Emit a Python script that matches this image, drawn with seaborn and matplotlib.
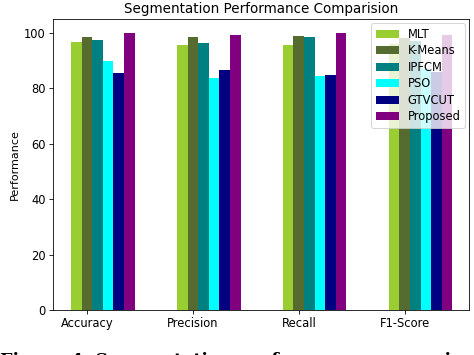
import matplotlib
matplotlib.use('Agg')
import matplotlib.pyplot as plt
import seaborn as sns
import numpy as np
import pandas as pd

metricas = ['Accuracy', 'Precision', 'Recall', 'F1-Score']
metodos = ['MLT', 'K-Means', 'IPFCM', 'PSO', 'GTVCUT', 'Proposed']

mlt = [96.8, 95.6, 95.6, 96.0]
kmeans = [98.5, 98.5, 99.0, 98.2]
ipfcm = [97.6, 96.5, 98.5, 97.0]
pso = [89.9, 83.9, 84.5, 87.0]
gtvcut = [85.7, 86.6, 84.8, 86.0]
proposed = [100.0, 99.4, 99.9, 99.4]

colores = ['yellowgreen', 'darkolivegreen', 'teal', 'cyan', 'navy', 'purple']

valores = [mlt, kmeans, ipfcm, pso, gtvcut, proposed]
datos = pd.DataFrame({
    'metrica': np.tile(metricas, len(metodos)),
    'metodo': np.repeat(metodos, len(metricas)),
    'valor': np.concatenate(valores),
})

fig, ax = plt.subplots(figsize=(474 / 74, 355 / 74), dpi=74)
plt.subplots_adjust(left=0.112, right=0.99, top=0.946, bottom=0.127)

sns.barplot(data=datos, x='metrica', y='valor', hue='metodo', order=metricas,
            hue_order=metodos, palette=colores, width=0.6, saturation=1,
            errorbar=None, ax=ax)

# las etiquetas quedan sobre la segunda barra de cada grupo
ax.set_xticks(np.arange(len(metricas)) - 0.15, metricas)
ax.tick_params(labelsize=11.2)
ax.set_xlim(-0.47, 3.46)
ax.set_ylim(0, 105)
ax.set_xlabel('')
ax.set_ylabel('Performance', fontsize=10.8)
ax.set_title('Segmentation Performance Comparision', fontsize=13.2)
ax.legend(loc='upper right', fontsize=11.2, handlelength=2.0, labelspacing=0.3,
          borderaxespad=0.35)

fig.text(0.0, 1 - 352 / 355, 'Figure 4  Segmentation performance comparison',
         va='top', ha='left', fontsize=17, fontweight='bold', family='DejaVu Serif')

plt.savefig('out.png', dpi=74)
